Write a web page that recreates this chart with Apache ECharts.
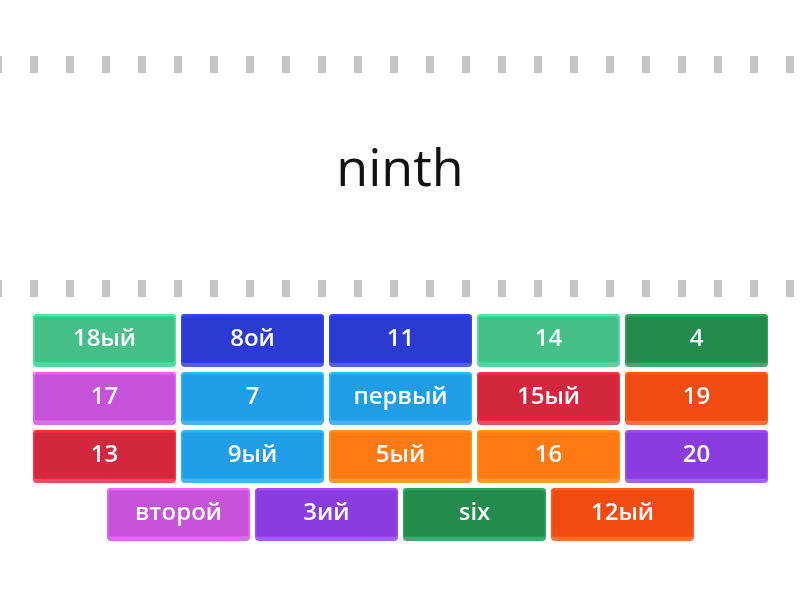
<!DOCTYPE html>
<html>
<head>
<meta charset="utf-8">
<script src="https://cdn.jsdelivr.net/npm/echarts@6/dist/echarts.min.js"></script>
<style>
html, body { margin: 0; background: #fff; }
#main { width: 800px; height: 600px; }
</style>
</head>
<body>
<div id="main"></div>
<script>
// tile data
var labels = ['18ый', '8ой', '11', '14', '4',
              '17', '7', 'первый', '15ый', '19',
              '13', '9ый', '5ый', '16', '20',
              'второй', '3ий', 'six', '12ый'];
var cols = [0, 1, 2, 3, 4, 0, 1, 2, 3, 4, 0, 1, 2, 3, 4, 0.5, 1.5, 2.5, 3.5];
var rows = [0, 0, 0, 0, 0, 1, 1, 1, 1, 1, 2, 2, 2, 2, 2, 3, 3, 3, 3];
var tileColors = ['#45bf88', '#2b3ad2', '#2b3ad2', '#45bf88', '#238b4b',
                  '#c552d8', '#1f9de6', '#1f9de6', '#d3273d', '#f04b10',
                  '#d3273d', '#1f9de6', '#ff7a12', '#ff7a12', '#8a3ce0',
                  '#c552d8', '#8a3ce0', '#238b4b', '#f04b10'];
var question = 'ninth';

var myChart = echarts.init(document.getElementById('main'));

var data = [];
for (var i = 0; i < labels.length; i++) {
    data.push([cols[i], rows[i], labels[i], tileColors[i]]);
}

function dashes(y) {
    var arr = [];
    for (var x = -6; x < 800; x += 36) {
        arr.push({ type: 'rect', shape: { x: x, y: y, width: 8, height: 17 }, style: { fill: '#c4c4c4' } });
    }
    return arr;
}

var option = {
    backgroundColor: '#ffffff',
    grid: { left: 33, right: 27, top: 314, bottom: 54 },
    xAxis: { type: 'value', min: 0, max: 5, show: false },
    yAxis: { type: 'value', min: 0, max: 4, inverse: true, show: false },
    graphic: dashes(56).concat(dashes(280)).concat([{
        type: 'text',
        left: 'center',
        top: 145,
        style: { text: question, font: '52px "Open Sans"', fill: '#111' }
    }]),
    series: [{
        type: 'custom',
        data: data,
        renderItem: function (params, api) {
            var p0 = api.coord([api.value(0), api.value(1)]);
            var p1 = api.coord([api.value(0) + 1, api.value(1) + 1]);
            var w = (p1[0] - p0[0]) - 5;
            var h = (p1[1] - p0[1]) - 5;
            var c = api.value(3);
            var dark = echarts.color.lift(c, 0.2);
            var light = echarts.color.lift(c, -0.2);
            return {
                type: 'group',
                children: [
                    { type: 'rect', shape: { x: p0[0], y: p0[1], width: w, height: h, r: 4 }, style: { fill: dark } },
                    { type: 'rect', shape: { x: p0[0], y: p0[1], width: w, height: h - 4, r: [4, 4, 2, 2] }, style: { fill: light } },
                    { type: 'rect', shape: { x: p0[0] + 1.5, y: p0[1] + 2.5, width: w - 3, height: h - 7, r: 2 }, style: { fill: c } },
                    { type: 'text', x: p0[0] + w / 2, y: p0[1] + h / 2 - 1,
                      style: { text: api.value(2), fill: '#fff', font: '600 24px "Open Sans"', align: 'center', verticalAlign: 'middle' } }
                ]
            };
        }
    }]
};
myChart.setOption(option);
</script>
</body>
</html>
